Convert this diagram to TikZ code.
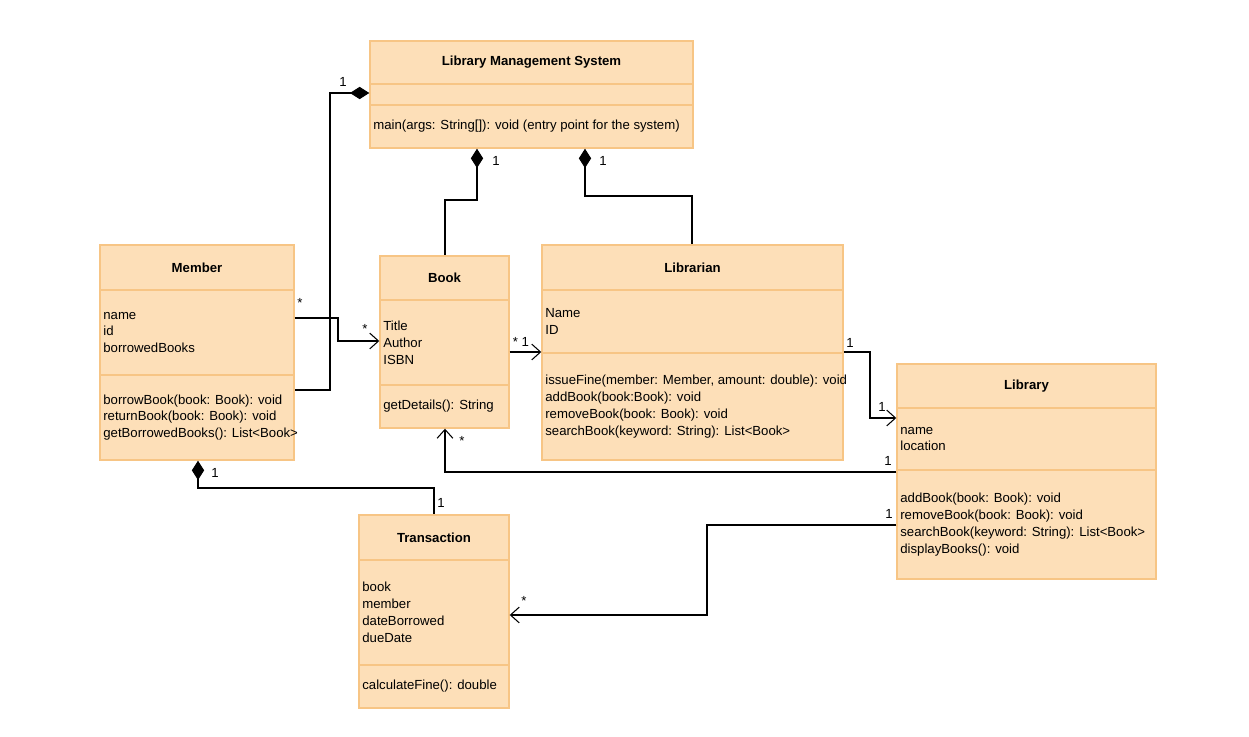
\documentclass[tikz,border=0pt]{standalone}
\usepackage{fontspec}
\setmainfont{Liberation Sans}
\usetikzlibrary{arrows.meta,positioning,calc}
\definecolor{clsfill}{HTML}{FDDFB8}
\definecolor{clsline}{HTML}{F7C585}
\tikzset{
  cls/.style={draw=clsline,fill=clsfill,line width=0.8pt,inner sep=0pt},
  sep/.style={draw=clsline,line width=0.8pt},
  title/.style={font=\fontsize{7.5}{9.6}\selectfont\bfseries},
  body/.style={font=\fontsize{7.5}{9.6}\selectfont,align=left,anchor=west,inner sep=0pt},
  mult/.style={font=\fontsize{7.5}{9}\selectfont,inner sep=1pt},
  assoc/.style={draw,line width=0.6pt,-{Straight Barb[length=5pt,width=9pt]}},
  comp/.style={draw,line width=0.6pt,{Diamond[length=11pt,width=7pt]}-}
}
% class box: name, x1, y1, x2, y2, sep1, sep2, title, attributes, then operations
\newcommand{\umlclass}[9]{
  \node[cls,minimum width={(#4-#2)*0.02cm},minimum height={(#5-#3)*0.02cm}]
    (#1) at ({(#2+#4)/2},{(#3+#5)/2}) {};
  \draw[sep] (#2,#6) -- (#4,#6);
  \draw[sep] (#2,#7) -- (#4,#7);
  \node[title] at ({(#2+#4)/2},{(#3+#6)/2}) {#8};
  \node[body] at (#2+3,{(#6+#7)/2}) {#9};
  \umlops{#2}{#7}{#5}}
\newcommand{\umlops}[4]{\node[body] at (#1+3,{(#2+#3)/2}) {#4};}
\begin{document}
\begin{tikzpicture}[x=0.02cm,y=-0.02cm]
\useasboundingbox (0,0) rectangle (1249,737);

\umlclass{lms}{370}{41}{693}{148}{84}{105}{Library Management System}{}{main(args: String[]): void (entry point for the system)}
\umlclass{member}{100}{245}{294}{460}{290}{375}{Member}{name\\id\\borrowedBooks}{borrowBook(book: Book): void\\returnBook(book: Book): void\\getBorrowedBooks(): List<Book>}
\umlclass{book}{380}{256}{509}{428}{300}{385}{Book}{Title\\Author\\ISBN}{getDetails(): String}
\umlclass{librarian}{542}{245}{843}{460}{290}{353}{Librarian}{Name\\ID}{issueFine(member: Member, amount: double): void\\addBook(book:Book): void\\removeBook(book: Book): void\\searchBook(keyword: String): List<Book>}
\umlclass{library}{897}{364}{1156}{579}{408}{470}{Library}{name\\location}{addBook(book: Book): void\\removeBook(book: Book): void\\searchBook(keyword: String): List<Book>\\displayBooks(): void}
\umlclass{trans}{359}{515}{509}{708}{560}{665}{Transaction}{book\\member\\dateBorrowed\\dueDate}{calculateFine(): double}

% compositions
\draw[comp] (lms.west |- 0,93) -- (330,93) -- (330,390) -- (member.east |- 0,390);
\draw[comp] (lms.south -| 477,0) -- (477,200) -- (445,200) -- (book.north -| 445,0);
\draw[comp] (lms.south -| 585,0) -- (585,196) -- (692,196) -- (librarian.north -| 692,0);
\draw[comp] (member.south -| 198,0) -- (198,488) -- (434,488) -- (trans.north -| 434,0);
% associations
\draw[assoc] (member.east |- 0,318) -- (338,318) -- (338,341) -- (book.west |- 0,341);
\draw[assoc] (book.east |- 0,352) -- (librarian.west |- 0,352);
\draw[assoc] (librarian.east |- 0,352) -- (870,352) -- (870,418) -- (library.west |- 0,418);
\draw[assoc] (library.west |- 0,472) -- (445,472) -- (book.south -| 445,0);
\draw[assoc] (library.west |- 0,525) -- (707,525) -- (707,615) -- (trans.east |- 0,615);

% multiplicities
\node[mult] at (343,82) {1};
\node[mult] at (496,161) {1};
\node[mult] at (603,161) {1};
\node[mult] at (300,303) {*};
\node[mult] at (365,329) {*};
\node[mult] at (521,342) {* 1};
\node[mult] at (850,343) {1};
\node[mult] at (882,407) {1};
\node[mult] at (462,441) {*};
\node[mult] at (888,461) {1};
\node[mult] at (215,473) {1};
\node[mult] at (441,503) {1};
\node[mult] at (889,514) {1};
\node[mult] at (524,601) {*};
\end{tikzpicture}
\end{document}
